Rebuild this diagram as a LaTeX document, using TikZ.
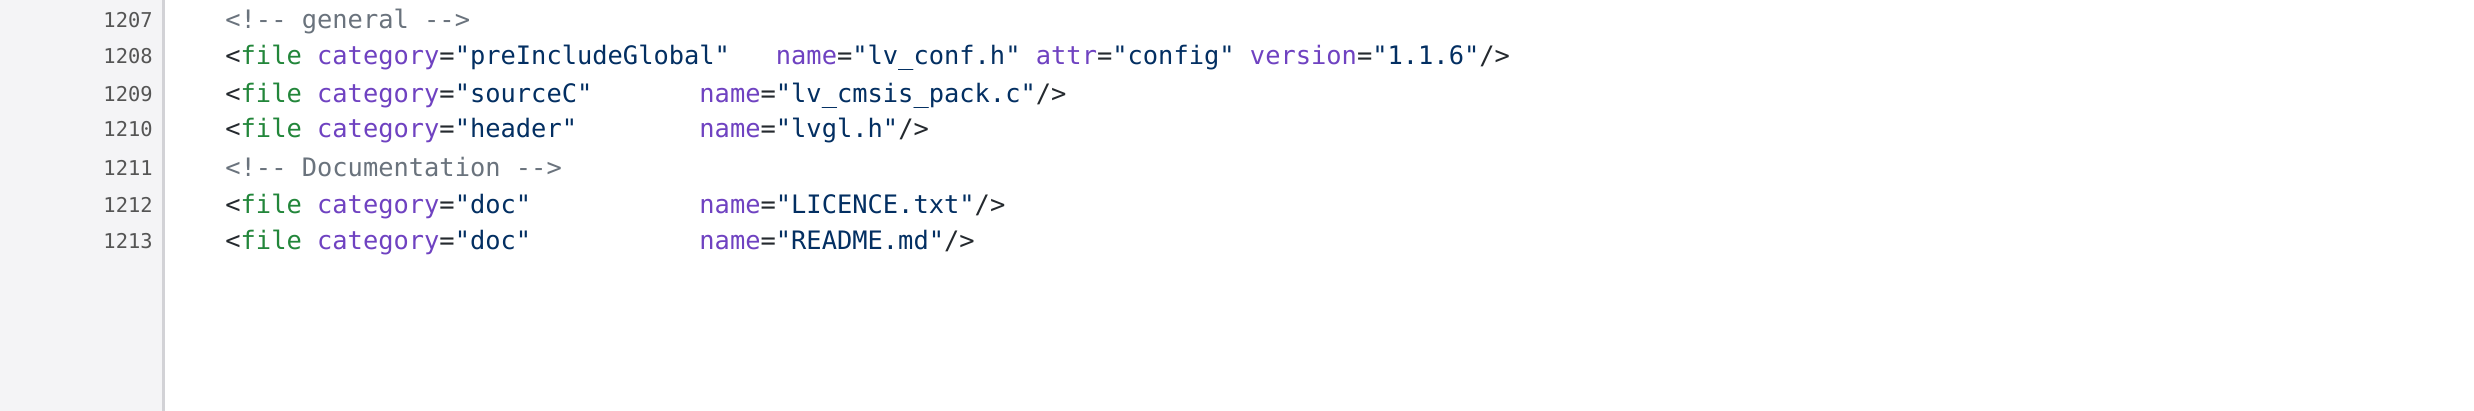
\documentclass[tikz,border=0pt]{standalone}
\usepackage{fontspec}
\setmonofont{DejaVu Sans Mono}[Scale=1.0]
\definecolor{cmt}{HTML}{6A737D}
\definecolor{tagc}{HTML}{22863A}
\definecolor{attc}{HTML}{6F42C1}
\definecolor{strc}{HTML}{032F62}
\definecolor{txtc}{HTML}{24292E}
\definecolor{numc}{HTML}{555555}
\definecolor{gut}{HTML}{F4F4F6}
\definecolor{gutb}{HTML}{D2D2D6}
\newcommand{\Tg}[1]{\textcolor{tagc}{#1}}
\newcommand{\At}[1]{\textcolor{attc}{#1}}
\newcommand{\St}[1]{\textcolor{strc}{#1}}
\begin{document}
\begin{tikzpicture}[x=0.5pt,y=-0.5pt,
  code/.style={anchor=base west,inner sep=0pt,font=\ttfamily\fontsize{12.7pt}{14pt}\selectfont,text=txtc},
  num/.style={anchor=base east,inner sep=0pt,font=\ttfamily\fontsize{10.2pt}{12pt}\selectfont,text=numc}]
\useasboundingbox (0,0) rectangle (2474,411);
\fill[white] (0,0) rectangle (2474,411);
\fill[gut] (0,0) rectangle (163,411);
\draw[gutb,line width=1.5pt] (163,0) -- (163,411);
\foreach \n/\y in {1207/28,1208/64,1209/102,1210/137,1211/176,1212/213,1213/249}
  \node[num] (n\n) at (153,\y) {\n};
\node[code] (l1) at (225,29) {\textcolor{cmt}{<!-{}- general -{}->}};
\node[code] (l2) at (225,65) {<\Tg{file} \At{category}=\St{"preIncludeGlobal"}~~~\At{name}=\St{"lv\_conf.h"} \At{attr}=\St{"config"} \At{version}=\St{"1.1.6"}/>};
\node[code] (l3) at (225,103) {<\Tg{file} \At{category}=\St{"sourceC"}~~~~~~~\At{name}=\St{"lv\_cmsis\_pack.c"}/>};
\node[code] (l4) at (225,138) {<\Tg{file} \At{category}=\St{"header"}~~~~~~~~\At{name}=\St{"lvgl.h"}/>};
\node[code] (l5) at (225,177) {\textcolor{cmt}{<!-{}- Documentation -{}->}};
\node[code] (l6) at (225,214) {<\Tg{file} \At{category}=\St{"doc"}~~~~~~~~~~~\At{name}=\St{"LICENCE.txt"}/>};
\node[code] (l7) at (225,250) {<\Tg{file} \At{category}=\St{"doc"}~~~~~~~~~~~\At{name}=\St{"README.md"}/>};
\end{tikzpicture}
\end{document}
